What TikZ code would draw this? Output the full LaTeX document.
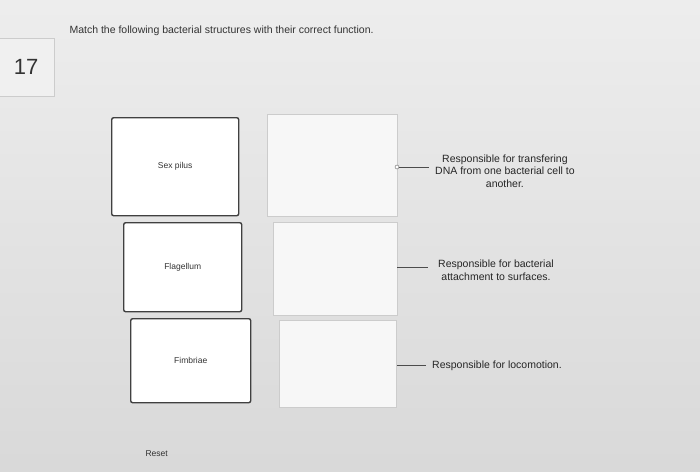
\documentclass[tikz,border=0pt]{standalone}
\usepackage{fontspec}
\setmainfont{Liberation Sans}
\begin{document}
\begin{tikzpicture}[x=1pt,y=-1pt,
  src/.style={draw=black!75,line width=1.4pt,fill=white,rounded corners=2pt},
  drop/.style={draw=black!20,line width=0.6pt,fill=black!3},
  lbl/.style={font=\fontsize{8.5}{10}\selectfont,text=black!80},
  rl/.style={font=\fontsize{10.5}{12.5}\selectfont,text=black!85},
  conn/.style={draw=black!70,line width=0.8pt}]
\shade[top color=black!7,bottom color=black!15] (0,0) rectangle (700,471);
\useasboundingbox (0,0) rectangle (700,471);
\node[draw=black!20,fill=black!6,minimum width=56,minimum height=58,anchor=north west,font=\fontsize{22}{24}\selectfont,text=black!80] (num) at (-2,38) {17};
\node[anchor=west,font=\fontsize{10.5}{12}\selectfont,text=black!80] (q) at (66,31) {Match the following bacterial structures with their correct function.};
\node[src,minimum width=127,minimum height=98,anchor=north west] (s1) at (111,117) {};
\node[lbl] at (s1) {Sex pilus};
\node[src,minimum width=118,minimum height=89,anchor=north west] (s2) at (123,222) {};
\node[lbl] at (s2) {Flagellum};
\node[src,minimum width=120,minimum height=84,anchor=north west] (s3) at (130,318) {};
\node[lbl] at (s3) {Fimbriae};
\node[drop,minimum width=130,minimum height=102,anchor=north west] (d1) at (267,114) {};
\node[drop,minimum width=124,minimum height=93,anchor=north west] (d2) at (273,222) {};
\node[drop,minimum width=117,minimum height=87,anchor=north west] (d3) at (279,320) {};
\coordinate (c1) at (397,167);
\coordinate (c2) at (397,267);
\coordinate (c3) at (397,365);
\node[rl,align=center,anchor=west,inner sep=1pt] (t1) at (434,171) {Responsible for transfering\\DNA from one bacterial cell to\\another.};
\node[rl,align=center,anchor=west,inner sep=1pt] (t2) at (437,270) {Responsible for bacterial\\attachment to surfaces.};
\node[rl,anchor=west,inner sep=1pt] (t3) at (431,366) {Responsible for locomotion.};
\draw[conn] (c1) -- (429,167);
\draw[conn] (c2) -- (428,267);
\draw[conn] (c3) -- (426,365);
\draw[black!60,fill=white] (c1) circle (2);
\node[lbl,anchor=west] (r) at (142,454) {Reset};
\end{tikzpicture}
\end{document}
